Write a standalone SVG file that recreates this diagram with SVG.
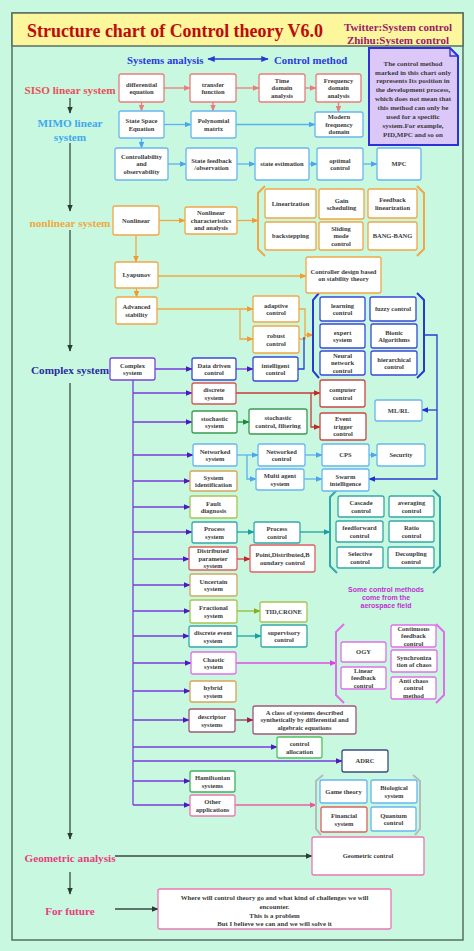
<svg xmlns="http://www.w3.org/2000/svg" width="474" height="951" viewBox="0 0 474 951">
<style>
.bx{fill:#fff;stroke-width:1.3}
.t{font-family:"Liberation Serif","Times New Roman",serif;font-weight:bold;font-size:6.5px;fill:#3a3a3a;text-anchor:middle}
.c{fill:none;stroke-width:1.3}
.br{fill:none;stroke-width:2}
.lab{font-family:"Liberation Serif","Times New Roman",serif;font-weight:bold;font-size:11.2px;text-anchor:middle}
.hd{font-family:"Liberation Serif","Times New Roman",serif;font-weight:bold;font-size:10.8px;fill:#2a3ae0}
.nt{font-family:"Liberation Serif","Times New Roman",serif;font-weight:bold;font-size:7px;fill:#3a3a3a;text-anchor:middle}
</style>
<defs>
<marker id="mR1" viewBox="0 0 10 8" refX="9" refY="4" markerWidth="7" markerHeight="5.6" markerUnits="userSpaceOnUse" orient="auto"><path d="M0,0L10,4L0,8z" fill="#e97c7c"/></marker>
<marker id="mLB" viewBox="0 0 10 8" refX="9" refY="4" markerWidth="7" markerHeight="5.6" markerUnits="userSpaceOnUse" orient="auto"><path d="M0,0L10,4L0,8z" fill="#4aa6ec"/></marker>
<marker id="mOR" viewBox="0 0 10 8" refX="9" refY="4" markerWidth="7" markerHeight="5.6" markerUnits="userSpaceOnUse" orient="auto"><path d="M0,0L10,4L0,8z" fill="#f09a30"/></marker>
<marker id="mDB" viewBox="0 0 10 8" refX="9" refY="4" markerWidth="7" markerHeight="5.6" markerUnits="userSpaceOnUse" orient="auto"><path d="M0,0L10,4L0,8z" fill="#2030d0"/></marker>
<marker id="mPU" viewBox="0 0 10 8" refX="9" refY="4" markerWidth="7" markerHeight="5.6" markerUnits="userSpaceOnUse" orient="auto"><path d="M0,0L10,4L0,8z" fill="#4a1cc0"/></marker>
<marker id="mRD" viewBox="0 0 10 8" refX="9" refY="4" markerWidth="7" markerHeight="5.6" markerUnits="userSpaceOnUse" orient="auto"><path d="M0,0L10,4L0,8z" fill="#c02a2a"/></marker>
<marker id="mGR" viewBox="0 0 10 8" refX="9" refY="4" markerWidth="7" markerHeight="5.6" markerUnits="userSpaceOnUse" orient="auto"><path d="M0,0L10,4L0,8z" fill="#1a8a3a"/></marker>
<marker id="mTE" viewBox="0 0 10 8" refX="9" refY="4" markerWidth="7" markerHeight="5.6" markerUnits="userSpaceOnUse" orient="auto"><path d="M0,0L10,4L0,8z" fill="#18a0a0"/></marker>
<marker id="mOL" viewBox="0 0 10 8" refX="9" refY="4" markerWidth="7" markerHeight="5.6" markerUnits="userSpaceOnUse" orient="auto"><path d="M0,0L10,4L0,8z" fill="#8aaa20"/></marker>
<marker id="mMG" viewBox="0 0 10 8" refX="9" refY="4" markerWidth="7" markerHeight="5.6" markerUnits="userSpaceOnUse" orient="auto"><path d="M0,0L10,4L0,8z" fill="#e040e0"/></marker>
<marker id="mMV" viewBox="0 0 10 8" refX="9" refY="4" markerWidth="7" markerHeight="5.6" markerUnits="userSpaceOnUse" orient="auto"><path d="M0,0L10,4L0,8z" fill="#a02050"/></marker>
<marker id="mPK" viewBox="0 0 10 8" refX="9" refY="4" markerWidth="7" markerHeight="5.6" markerUnits="userSpaceOnUse" orient="auto"><path d="M0,0L10,4L0,8z" fill="#e85a9a"/></marker>
<marker id="mDK" viewBox="0 0 10 8" refX="9" refY="4" markerWidth="7" markerHeight="5.6" markerUnits="userSpaceOnUse" orient="auto"><path d="M0,0L10,4L0,8z" fill="#2c3a34"/></marker>
<marker id="mHB" viewBox="0 0 10 8" refX="9" refY="4" markerWidth="8" markerHeight="6" markerUnits="userSpaceOnUse" orient="auto-start-reverse"><path d="M0,0L10,4L0,8z" fill="#2a3ad0"/></marker>
</defs>

<rect x="0" y="0" width="474" height="951" fill="#c8f8e0"/>
<rect x="12" y="13" width="451" height="927" fill="none" stroke="#5a6e64" stroke-width="1.5"/>
<rect x="12" y="13" width="451" height="33" fill="#fcf69c" stroke="#5a6e64" stroke-width="1.5"/>
<text x="27" y="37" font-family="'Liberation Serif','Times New Roman',serif" font-weight="bold" font-size="18" fill="#c00a0a" textLength="296" lengthAdjust="spacingAndGlyphs">Structure chart of Control theory V6.0</text>
<text x="398" y="31" font-family="'Liberation Serif','Times New Roman',serif" font-weight="bold" font-size="11" fill="#9a1a6a" text-anchor="middle">Twitter:System control</text>
<text x="398" y="43.5" font-family="'Liberation Serif','Times New Roman',serif" font-weight="bold" font-size="11" fill="#9a1a6a" text-anchor="middle">Zhihu:System control</text>

<text class="hd" x="127" y="63.5">Systems analysis</text>
<text class="hd" x="274" y="63.5">Control method</text>

<g id="labels">
<text class="lab" x="70" y="94" fill="#e8505a">SISO linear system</text>
<text class="lab" x="70" y="127" fill="#40a8f0">MIMO linear</text>
<text class="lab" x="70" y="141" fill="#40a8f0">system</text>
<text class="lab" x="70" y="227" fill="#f0a840">nonlinear system</text>
<text class="lab" x="70" y="374" fill="#2a2aa0">Complex system</text>
<text class="lab" x="70" y="862" fill="#e83c80">Geometric analysis</text>
<text class="lab" x="70" y="915" fill="#e83c80">For future</text>
<text x="386" y="592" font-family="'Liberation Sans',Arial,sans-serif" font-weight="bold" font-size="7" fill="#c030d0" text-anchor="middle">Some control methods</text>
<text x="386" y="600" font-family="'Liberation Sans',Arial,sans-serif" font-weight="bold" font-size="7" fill="#c030d0" text-anchor="middle">come from the</text>
<text x="386" y="608" font-family="'Liberation Sans',Arial,sans-serif" font-weight="bold" font-size="7" fill="#c030d0" text-anchor="middle">aerospace field</text>
</g>

<g id="connectors">
<path class="c" stroke="#2a3ad0" d="M208,59H268" marker-start="url(#mHB)" marker-end="url(#mHB)"/>
<g stroke="#3c4a44">
<path class="c" d="M70,98V113" marker-end="url(#mDK)"/>
<path class="c" d="M70,143V211" marker-end="url(#mDK)"/>
<path class="c" d="M70,230V351" marker-end="url(#mDK)"/>
<path class="c" d="M70,383V839" marker-end="url(#mDK)"/>
<path class="c" d="M70,872V894" marker-end="url(#mDK)"/>
<path class="c" d="M115,856H312" marker-end="url(#mDK)"/>
<path class="c" d="M115,909H158" marker-end="url(#mDK)"/>
</g>
<g stroke="#e97c7c">
<path class="c" d="M164,88H190" marker-end="url(#mR1)"/>
<path class="c" d="M236,88H259" marker-end="url(#mR1)"/>
<path class="c" d="M305,88H316" marker-end="url(#mR1)"/>
<path class="c" d="M141.5,102V111" marker-end="url(#mR1)"/>
<path class="c" d="M213,102V111" marker-end="url(#mR1)"/>
<path class="c" d="M338.5,102V112" marker-end="url(#mR1)"/>
</g>
<g stroke="#5ab0f0">
<path class="c" d="M164,124.5H191" marker-end="url(#mLB)"/>
<path class="c" d="M236,124.5H315" marker-end="url(#mLB)"/>
<path class="c" d="M141.5,138V148" marker-end="url(#mLB)"/>
<path class="c" d="M168,164H186" marker-end="url(#mLB)"/>
<path class="c" d="M237,164H255" marker-end="url(#mLB)"/>
<path class="c" d="M309,164H317" marker-end="url(#mLB)"/>
<path class="c" d="M363,164H377" marker-end="url(#mLB)"/>
<path class="c" d="M237,455H258" marker-end="url(#mLB)"/>
<path class="c" d="M247,455V479H256" marker-end="url(#mLB)"/>
<path class="c" d="M305,455H322" marker-end="url(#mLB)"/>
<path class="c" d="M369,455H377" marker-end="url(#mLB)"/>
<path class="c" d="M304,479H322" marker-end="url(#mLB)"/>
</g>
<g stroke="#f2a646">
<path class="c" d="M159,220.5H185" marker-end="url(#mOR)"/>
<path class="c" d="M237,220.5H258" marker-end="url(#mOR)"/>
<path class="c" d="M136,235V262" marker-end="url(#mOR)"/>
<path class="c" d="M158,276H306" marker-end="url(#mOR)"/>
<path class="c" d="M136.5,288V297" marker-end="url(#mOR)"/>
<path class="c" d="M157,309H253" marker-end="url(#mOR)"/>
<path class="c" d="M240,309V339H253" marker-end="url(#mOR)"/>
<path class="c" d="M299,309H305V339H299"/>
<path class="c" d="M305,335H313" marker-end="url(#mOR)"/>
</g>
<g stroke="#2a3ad0">
<path class="c" d="M298,369H304V337"/>
<path class="c" d="M424,335H437V479H369" marker-end="url(#mDB)"/>
<path class="c" d="M437,410H422" marker-end="url(#mDB)"/>
</g>
<g stroke="#7a3ae0">
<path class="c" d="M155,369H192" marker-end="url(#mPU)"/>
<path class="c" d="M236,369H253" marker-end="url(#mPU)"/>
<path class="c" d="M133,380V805"/>
<path class="c" d="M133,393H192" marker-end="url(#mPU)"/>
<path class="c" d="M133,422H192" marker-end="url(#mPU)"/>
<path class="c" d="M133,455H193" marker-end="url(#mPU)"/>
<path class="c" d="M133,481H190" marker-end="url(#mPU)"/>
<path class="c" d="M133,507H190" marker-end="url(#mPU)"/>
<path class="c" d="M133,532H192" marker-end="url(#mPU)"/>
<path class="c" d="M133,559H189" marker-end="url(#mPU)"/>
<path class="c" d="M133,585H190" marker-end="url(#mPU)"/>
<path class="c" d="M133,611H190" marker-end="url(#mPU)"/>
<path class="c" d="M133,636H189" marker-end="url(#mPU)"/>
<path class="c" d="M133,663H191" marker-end="url(#mPU)"/>
<path class="c" d="M133,691H190" marker-end="url(#mPU)"/>
<path class="c" d="M133,720H189" marker-end="url(#mPU)"/>
<path class="c" d="M133,747H277" marker-end="url(#mPU)"/>
<path class="c" d="M133,761H342" marker-end="url(#mPU)"/>
<path class="c" d="M133,781H190" marker-end="url(#mPU)"/>
<path class="c" d="M133,805H190" marker-end="url(#mPU)"/>
</g>
<g stroke="#c83a3a">
<path class="c" d="M236,393H320" marker-end="url(#mRD)"/>
<path class="c" d="M311,393V427H320" marker-end="url(#mRD)"/>
</g>
<path class="c" stroke="#2a8a40" d="M237,422H249" marker-end="url(#mGR)"/>
<g stroke="#20a0a0">
<path class="c" d="M237,532H254" marker-end="url(#mTE)"/>
<path class="c" d="M300,532H330" marker-end="url(#mTE)"/>
<path class="c" d="M237,636H261" marker-end="url(#mTE)"/>
</g>
<path class="c" stroke="#e03a3a" d="M237,559H250" marker-end="url(#mRD)"/>
<path class="c" stroke="#98b830" d="M237,611H260" marker-end="url(#mOL)"/>
<path class="c" stroke="#e050e0" d="M236,663H336" marker-end="url(#mMG)"/>
<path class="c" stroke="#a03060" d="M235,720H253" marker-end="url(#mMV)"/>
<path class="c" stroke="#e860a0" d="M235,805H316" marker-end="url(#mPK)"/>
</g>

<g id="brackets">
<path class="br" stroke="#f2a646" d="M265,186L258,193V249L265,256M417,186L424,193V249L417,256"/>
<path class="br" stroke="#2a3ad0" d="M319,293L313,300V371L319,378M417,293L424,300V371L417,378"/>
<path class="br" stroke="#34a8a8" d="M337,490L330,497V566L337,573M433,490L440,497V566L433,573"/>
<path class="br" stroke="#e070e8" d="M344,624L336,632V695L344,703M436,624L444,632V695L436,703"/>
<path class="br" stroke="#b4bcbc" d="M323,775L316,781V829L321,835M413,775L420,781V829L415,835"/>
</g>

<g id="note">
<path d="M369,48H450L458,56V145H369Z" fill="#dcc8f8" stroke="#3030d8" stroke-width="2"/>
<path d="M450,48V56H458" fill="none" stroke="#3030d8" stroke-width="1.3"/>
<text class="nt"><tspan x="413" y="65.6">The control method</tspan><tspan x="413" y="74.6">marked in this chart only</tspan><tspan x="413" y="83.3">represents Its position in</tspan><tspan x="413" y="92.3">the development process,</tspan><tspan x="413" y="101.3">which does not mean that</tspan><tspan x="413" y="110">this method can only be</tspan><tspan x="413" y="119">used for a specific</tspan><tspan x="413" y="128">system.For example,</tspan><tspan x="413" y="136.5">PID,MPC and so on</tspan></text>
</g>

<g id="n-diffeq"><rect class="bx" x="119" y="74" width="45" height="28" rx="2" stroke="#e97c7c"/><text class="t"><tspan x="141.5" y="86.5">differential</tspan><tspan x="141.5" y="94.1">equation</tspan></text></g>
<g id="n-tf"><rect class="bx" x="190" y="74" width="46" height="28" rx="2" stroke="#e97c7c"/><text class="t"><tspan x="213" y="86.5">transfer</tspan><tspan x="213" y="94.1">function</tspan></text></g>
<g id="n-tda"><rect class="bx" x="259" y="74" width="46" height="28" rx="2" stroke="#e97c7c"/><text class="t"><tspan x="282" y="82.7">Time</tspan><tspan x="282" y="90.3">domain</tspan><tspan x="282" y="97.9">analysis</tspan></text></g>
<g id="n-fda"><rect class="bx" x="316" y="74" width="45" height="28" rx="2" stroke="#e97c7c"/><text class="t"><tspan x="338.5" y="82.7">Frequency</tspan><tspan x="338.5" y="90.3">domain</tspan><tspan x="338.5" y="97.9">analysis</tspan></text></g>
<g id="n-sse"><rect class="bx" x="119" y="111" width="45" height="27" rx="2" stroke="#68b6ee"/><text class="t"><tspan x="141.5" y="123">State Space</tspan><tspan x="141.5" y="130.6">Equation</tspan></text></g>
<g id="n-pm"><rect class="bx" x="191" y="111" width="45" height="27" rx="2" stroke="#68b6ee"/><text class="t"><tspan x="213.5" y="123">Polynomial</tspan><tspan x="213.5" y="130.6">matrix</tspan></text></g>
<g id="n-mfd"><rect class="bx" x="315" y="112" width="48" height="25" rx="2" stroke="#68b6ee"/><text class="t"><tspan x="339" y="119.2">Modern</tspan><tspan x="339" y="126.8">frequency</tspan><tspan x="339" y="134.4">domain</tspan></text></g>
<g id="n-co"><rect class="bx" x="115" y="148" width="53" height="32" rx="2" stroke="#68b6ee"/><text class="t"><tspan x="141.5" y="158.7">Controllability</tspan><tspan x="141.5" y="166.3">and</tspan><tspan x="141.5" y="173.9">observability</tspan></text></g>
<g id="n-sf"><rect class="bx" x="186" y="148" width="51" height="32" rx="2" stroke="#68b6ee"/><text class="t"><tspan x="211.5" y="162.5">State feedback</tspan><tspan x="211.5" y="170.1">/observation</tspan></text></g>
<g id="n-se"><rect class="bx" x="255" y="148" width="54" height="32" rx="2" stroke="#68b6ee"/><text class="t"><tspan x="282" y="166.3">state estimation</tspan></text></g>
<g id="n-oc"><rect class="bx" x="317" y="148" width="46" height="32" rx="2" stroke="#68b6ee"/><text class="t"><tspan x="340" y="162.5">optimal</tspan><tspan x="340" y="170.1">control</tspan></text></g>
<g id="n-mpc"><rect class="bx" x="377" y="148" width="44" height="32" rx="2" stroke="#68b6ee"/><text class="t"><tspan x="399" y="166.3">MPC</tspan></text></g>

<g id="n-nl"><rect class="bx" x="113" y="206" width="46" height="29" rx="2" stroke="#f2a646"/><text class="t"><tspan x="136" y="222.8">Nonlinear</tspan></text></g>
<g id="n-nlc"><rect class="bx" x="185" y="207" width="52" height="27" rx="2" stroke="#f2a646"/><text class="t"><tspan x="211" y="215.2">Nonlinear</tspan><tspan x="211" y="222.8">characteristics</tspan><tspan x="211" y="230.4">and analysis</tspan></text></g>
<g id="n-lin"><rect class="bx" x="265" y="189" width="51" height="29" rx="2" stroke="#f2a646"/><text class="t"><tspan x="290.5" y="205.8">Linearization</tspan></text></g>
<g id="n-gs"><rect class="bx" x="319" y="189" width="45" height="30" rx="2" stroke="#f2a646"/><text class="t"><tspan x="341.5" y="202.5">Gain</tspan><tspan x="341.5" y="210.1">scheduling</tspan></text></g>
<g id="n-fl"><rect class="bx" x="368" y="189" width="49" height="29" rx="2" stroke="#f2a646"/><text class="t"><tspan x="392.5" y="202">Feedback</tspan><tspan x="392.5" y="209.6">linearization</tspan></text></g>
<g id="n-bs"><rect class="bx" x="265" y="222" width="51" height="28" rx="2" stroke="#f2a646"/><text class="t"><tspan x="290.5" y="238.3">backstepping</tspan></text></g>
<g id="n-smc"><rect class="bx" x="319" y="222" width="44" height="28" rx="2" stroke="#f2a646"/><text class="t"><tspan x="341" y="230.7">Sliding</tspan><tspan x="341" y="238.3">mode</tspan><tspan x="341" y="245.9">control</tspan></text></g>
<g id="n-bb"><rect class="bx" x="368" y="222" width="49" height="28" rx="2" stroke="#f2a646"/><text class="t"><tspan x="392.5" y="238.3">BANG-BANG</tspan></text></g>
<g id="n-lya"><rect class="bx" x="115" y="262" width="43" height="26" rx="2" stroke="#f2a646"/><text class="t"><tspan x="136.5" y="277.3">Lyapunov</tspan></text></g>
<g id="n-cdb"><rect class="bx" x="306" y="257" width="75" height="36" rx="2" stroke="#f2a646"/><text class="t"><tspan x="343.5" y="273.5">Controller design based</tspan><tspan x="343.5" y="281.1">on stability theory</tspan></text></g>
<g id="n-as"><rect class="bx" x="116" y="297" width="41" height="27" rx="2" stroke="#f2a646"/><text class="t"><tspan x="136.5" y="309">Advanced</tspan><tspan x="136.5" y="316.6">stability</tspan></text></g>
<g id="n-ac"><rect class="bx" x="253" y="296" width="46" height="26" rx="2" stroke="#f2a646"/><text class="t"><tspan x="276" y="307.5">adaptive</tspan><tspan x="276" y="315.1">control</tspan></text></g>
<g id="n-rc"><rect class="bx" x="253" y="326" width="46" height="27" rx="2" stroke="#f2a646"/><text class="t"><tspan x="276" y="338">robust</tspan><tspan x="276" y="345.6">control</tspan></text></g>
<g id="n-ic"><rect class="bx" x="253" y="357" width="45" height="24" rx="2" stroke="#3848d8"/><text class="t"><tspan x="275.5" y="367.5">intelligent</tspan><tspan x="275.5" y="375.1">control</tspan></text></g>

<g id="n-lc"><rect class="bx" x="320" y="297" width="45" height="24" rx="2" stroke="#3848d8"/><text class="t"><tspan x="342.5" y="307.5">learning</tspan><tspan x="342.5" y="315.1">control</tspan></text></g>
<g id="n-fc"><rect class="bx" x="370" y="297" width="46" height="24" rx="2" stroke="#3848d8"/><text class="t"><tspan x="393" y="311.3">fuzzy control</tspan></text></g>
<g id="n-es"><rect class="bx" x="320" y="324" width="45" height="24" rx="2" stroke="#3848d8"/><text class="t"><tspan x="342.5" y="334.5">expert</tspan><tspan x="342.5" y="342.1">system</tspan></text></g>
<g id="n-ba"><rect class="bx" x="371" y="324" width="46" height="24" rx="2" stroke="#3848d8"/><text class="t"><tspan x="394" y="334.5">Bionic</tspan><tspan x="394" y="342.1">Algorithms</tspan></text></g>
<g id="n-nn"><rect class="bx" x="320" y="351" width="45" height="24" rx="2" stroke="#3848d8"/><text class="t"><tspan x="342.5" y="357.7">Neural</tspan><tspan x="342.5" y="365.3">network</tspan><tspan x="342.5" y="372.9">control</tspan></text></g>
<g id="n-hc"><rect class="bx" x="371" y="351" width="46" height="24" rx="2" stroke="#3848d8"/><text class="t"><tspan x="394" y="361.5">hierarchical</tspan><tspan x="394" y="369.1">control</tspan></text></g>
<g id="n-mlrl"><rect class="bx" x="375" y="400" width="47" height="21" rx="2" stroke="#68b6ee"/><text class="t"><tspan x="398.5" y="412.8">ML/RL</tspan></text></g>

<g id="n-cs"><rect class="bx" x="110" y="358" width="45" height="22" rx="2" stroke="#7a44d0"/><text class="t"><tspan x="132.5" y="367.5">Complex</tspan><tspan x="132.5" y="375.1">system</tspan></text></g>
<g id="n-ddc"><rect class="bx" x="192" y="358" width="44" height="22" rx="2" stroke="#3848d8"/><text class="t"><tspan x="214" y="367.5">Data driven</tspan><tspan x="214" y="375.1">control</tspan></text></g>
<g id="n-ds"><rect class="bx" x="192" y="383" width="44" height="21" rx="2" stroke="#d05858"/><text class="t"><tspan x="214" y="392">discrete</tspan><tspan x="214" y="399.6">system</tspan></text></g>
<g id="n-cc"><rect class="bx" x="320" y="380" width="45" height="27" rx="2" stroke="#c84848"/><text class="t"><tspan x="342.5" y="392">computer</tspan><tspan x="342.5" y="399.6">control</tspan></text></g>
<g id="n-etc"><rect class="bx" x="320" y="413" width="46" height="27" rx="2" stroke="#c84848"/><text class="t"><tspan x="343" y="421.2">Event</tspan><tspan x="343" y="428.8">trigger</tspan><tspan x="343" y="436.4">control</tspan></text></g>
<g id="n-ss"><rect class="bx" x="192" y="411" width="45" height="22" rx="2" stroke="#3a9a50"/><text class="t"><tspan x="214.5" y="420.5">stochastic</tspan><tspan x="214.5" y="428.1">system</tspan></text></g>
<g id="n-scf"><rect class="bx" x="249" y="409" width="58" height="25" rx="2" stroke="#3a9a50"/><text class="t"><tspan x="278" y="420">stochastic</tspan><tspan x="278" y="427.6">control, filtering</tspan></text></g>
<g id="n-nsys"><rect class="bx" x="193" y="444" width="44" height="22" rx="2" stroke="#68b6ee"/><text class="t"><tspan x="215" y="453.5">Networked</tspan><tspan x="215" y="461.1">system</tspan></text></g>
<g id="n-nc"><rect class="bx" x="258" y="444" width="47" height="22" rx="2" stroke="#68b6ee"/><text class="t"><tspan x="281.5" y="453.5">Networked</tspan><tspan x="281.5" y="461.1">control</tspan></text></g>
<g id="n-cps"><rect class="bx" x="322" y="444" width="47" height="22" rx="2" stroke="#68b6ee"/><text class="t"><tspan x="345.5" y="457.3">CPS</tspan></text></g>
<g id="n-sec"><rect class="bx" x="377" y="444" width="48" height="22" rx="2" stroke="#68b6ee"/><text class="t"><tspan x="401" y="457.3">Security</tspan></text></g>
<g id="n-sid"><rect class="bx" x="190" y="471" width="47" height="20" rx="2" stroke="#d8a458"/><text class="t"><tspan x="213.5" y="479.5">System</tspan><tspan x="213.5" y="487.1">identification</tspan></text></g>
<g id="n-mas"><rect class="bx" x="256" y="469" width="48" height="21" rx="2" stroke="#68b6ee"/><text class="t"><tspan x="280" y="478">Multi agent</tspan><tspan x="280" y="485.6">system</tspan></text></g>
<g id="n-swarm"><rect class="bx" x="322" y="469" width="47" height="22" rx="2" stroke="#68b6ee"/><text class="t"><tspan x="345.5" y="478.5">Swarm</tspan><tspan x="345.5" y="486.1">intelligence</tspan></text></g>
<g id="n-fd"><rect class="bx" x="190" y="496" width="47" height="22" rx="2" stroke="#a8c450"/><text class="t"><tspan x="213.5" y="505.5">Fault</tspan><tspan x="213.5" y="513.1">diagnosis</tspan></text></g>
<g id="n-ps"><rect class="bx" x="192" y="522" width="45" height="21" rx="2" stroke="#34a8a8"/><text class="t"><tspan x="214.5" y="531">Process</tspan><tspan x="214.5" y="538.6">system</tspan></text></g>
<g id="n-pc"><rect class="bx" x="254" y="522" width="46" height="21" rx="2" stroke="#34a8a8"/><text class="t"><tspan x="277" y="531">Process</tspan><tspan x="277" y="538.6">control</tspan></text></g>
<g id="n-casc"><rect class="bx" x="338" y="496" width="46" height="21" rx="2" stroke="#34a8a8"/><text class="t"><tspan x="361" y="505">Cascade</tspan><tspan x="361" y="512.6">control</tspan></text></g>
<g id="n-avg"><rect class="bx" x="389" y="496" width="45" height="21" rx="2" stroke="#34a8a8"/><text class="t"><tspan x="411.5" y="505">averaging</tspan><tspan x="411.5" y="512.6">control</tspan></text></g>
<g id="n-ff"><rect class="bx" x="336" y="521" width="47" height="21" rx="2" stroke="#34a8a8"/><text class="t"><tspan x="359.5" y="530">feedforward</tspan><tspan x="359.5" y="537.6">control</tspan></text></g>
<g id="n-ratio"><rect class="bx" x="389" y="521" width="45" height="21" rx="2" stroke="#34a8a8"/><text class="t"><tspan x="411.5" y="530">Ratio</tspan><tspan x="411.5" y="537.6">control</tspan></text></g>
<g id="n-sel"><rect class="bx" x="337" y="547" width="46" height="21" rx="2" stroke="#34a8a8"/><text class="t"><tspan x="360" y="556">Selective</tspan><tspan x="360" y="563.6">control</tspan></text></g>
<g id="n-dec"><rect class="bx" x="388" y="547" width="46" height="21" rx="2" stroke="#34a8a8"/><text class="t"><tspan x="411" y="556">Decoupling</tspan><tspan x="411" y="563.6">control</tspan></text></g>
<g id="n-dps"><rect class="bx" x="189" y="547" width="48" height="23" rx="2" stroke="#e06060"/><text class="t"><tspan x="213" y="553.2">Distributed</tspan><tspan x="213" y="560.8">parameter</tspan><tspan x="213" y="568.4">system</tspan></text></g>
<g id="n-pdb"><rect class="bx" x="250" y="545" width="65" height="27" rx="2" stroke="#e06060"/><text class="t"><tspan x="282.5" y="557">Point,Distributed,B</tspan><tspan x="282.5" y="564.6">oundary control</tspan></text></g>
<g id="n-us"><rect class="bx" x="190" y="574" width="47" height="22" rx="2" stroke="#d0a860"/><text class="t"><tspan x="213.5" y="583.5">Uncertain</tspan><tspan x="213.5" y="591.1">system</tspan></text></g>
<g id="n-frac"><rect class="bx" x="190" y="600" width="47" height="23" rx="2" stroke="#a8c450"/><text class="t"><tspan x="213.5" y="610">Fractional</tspan><tspan x="213.5" y="617.6">system</tspan></text></g>
<g id="n-tid"><rect class="bx" x="260" y="602" width="47" height="20" rx="2" stroke="#a8c450"/><text class="t"><tspan x="283.5" y="614.3">TID,CRONE</tspan></text></g>
<g id="n-des"><rect class="bx" x="189" y="626" width="48" height="21" rx="2" stroke="#34a8a8"/><text class="t"><tspan x="213" y="635">discrete event</tspan><tspan x="213" y="642.6">system</tspan></text></g>
<g id="n-sup"><rect class="bx" x="261" y="625" width="46" height="22" rx="2" stroke="#34a8a8"/><text class="t"><tspan x="284" y="634.5">supervisory</tspan><tspan x="284" y="642.1">control</tspan></text></g>
<g id="n-chaos"><rect class="bx" x="191" y="652" width="45" height="22" rx="2" stroke="#e070e8"/><text class="t"><tspan x="213.5" y="661.5">Chaotic</tspan><tspan x="213.5" y="669.1">system</tspan></text></g>
<g id="n-ogy"><rect class="bx" x="341" y="642" width="45" height="20" rx="2" stroke="#e070e8"/><text class="t"><tspan x="363.5" y="654.3">OGY</tspan></text></g>
<g id="n-lfc"><rect class="bx" x="341" y="667" width="45" height="22" rx="2" stroke="#e070e8"/><text class="t"><tspan x="363.5" y="672.7">Linear</tspan><tspan x="363.5" y="680.3">feedback</tspan><tspan x="363.5" y="687.9">control</tspan></text></g>
<g id="n-cfc"><rect class="bx" x="391" y="625" width="45" height="22" rx="2" stroke="#e070e8"/><text class="t"><tspan x="413.5" y="630.7">Continuous</tspan><tspan x="413.5" y="638.3">feedback</tspan><tspan x="413.5" y="645.9">control</tspan></text></g>
<g id="n-sync"><rect class="bx" x="391" y="650" width="46" height="22" rx="2" stroke="#e070e8"/><text class="t"><tspan x="414" y="659.5">Synchroniza</tspan><tspan x="414" y="667.1">tion of chaos</tspan></text></g>
<g id="n-acc"><rect class="bx" x="391" y="677" width="45" height="22" rx="2" stroke="#e070e8"/><text class="t"><tspan x="413.5" y="682.7">Anti chaos</tspan><tspan x="413.5" y="690.3">control</tspan><tspan x="413.5" y="697.9">method</tspan></text></g>
<g id="n-hyb"><rect class="bx" x="190" y="681" width="46" height="21" rx="2" stroke="#d8a458"/><text class="t"><tspan x="213" y="690">hybrid</tspan><tspan x="213" y="697.6">system</tspan></text></g>
<g id="n-desc"><rect class="bx" x="189" y="709" width="46" height="23" rx="2" stroke="#a05878"/><text class="t"><tspan x="212" y="719">descriptor</tspan><tspan x="212" y="726.6">systems</tspan></text></g>
<g id="n-cls"><rect class="bx" x="253" y="706" width="103" height="28" rx="2" stroke="#a05878"/><text class="t"><tspan x="304.5" y="714.7">A class of systems described</tspan><tspan x="304.5" y="722.3">synthetically by differential and</tspan><tspan x="304.5" y="729.9">algebraic equations</tspan></text></g>
<g id="n-ca"><rect class="bx" x="277" y="737" width="45" height="21" rx="2" stroke="#50c060"/><text class="t"><tspan x="299.5" y="746">control</tspan><tspan x="299.5" y="753.6">allocation</tspan></text></g>
<g id="n-adrc"><rect class="bx" x="342" y="750" width="46" height="22" rx="2" stroke="#3c4c80"/><text class="t"><tspan x="365" y="763.3">ADRC</tspan></text></g>
<g id="n-ham"><rect class="bx" x="190" y="771" width="45" height="21" rx="2" stroke="#40b060"/><text class="t"><tspan x="212.5" y="780">Hamiltonian</tspan><tspan x="212.5" y="787.6">systems</tspan></text></g>
<g id="n-oa"><rect class="bx" x="190" y="795" width="45" height="21" rx="2" stroke="#e878b0"/><text class="t"><tspan x="212.5" y="804">Other</tspan><tspan x="212.5" y="811.6">applications</tspan></text></g>
<g id="n-gt"><rect class="bx" x="320" y="780" width="47" height="23" rx="2" stroke="#68b6ee"/><text class="t"><tspan x="343.5" y="793.8">Game theory</tspan></text></g>
<g id="n-bio"><rect class="bx" x="371" y="780" width="46" height="23" rx="2" stroke="#68b6ee"/><text class="t"><tspan x="394" y="790">Biological</tspan><tspan x="394" y="797.6">system</tspan></text></g>
<g id="n-fin"><rect class="bx" x="321" y="807" width="46" height="25" rx="2" stroke="#e06060"/><text class="t"><tspan x="344" y="818">Financial</tspan><tspan x="344" y="825.6">system</tspan></text></g>
<g id="n-qc"><rect class="bx" x="371" y="807" width="45" height="24" rx="2" stroke="#68b6ee"/><text class="t"><tspan x="393.5" y="817.5">Quantum</tspan><tspan x="393.5" y="825.1">control</tspan></text></g>
<g id="n-gc"><rect class="bx" x="312" y="837" width="112" height="38" rx="2" stroke="#e878b0"/><text class="t"><tspan x="368" y="858.3">Geometric control</tspan></text></g>
<g id="n-future"><rect class="bx" x="158" y="889" width="233" height="40" rx="2" stroke="#e878b0"/><text class="t" style="font-size:6.8px"><tspan x="274.5" y="900">Where will control theory go and what kind of challenges we will</tspan><tspan x="274.5" y="909">encounter.</tspan><tspan x="274.5" y="917.5">This is a problem</tspan><tspan x="274.5" y="926">But I believe we can and we will solve it</tspan></text></g>
</svg>
